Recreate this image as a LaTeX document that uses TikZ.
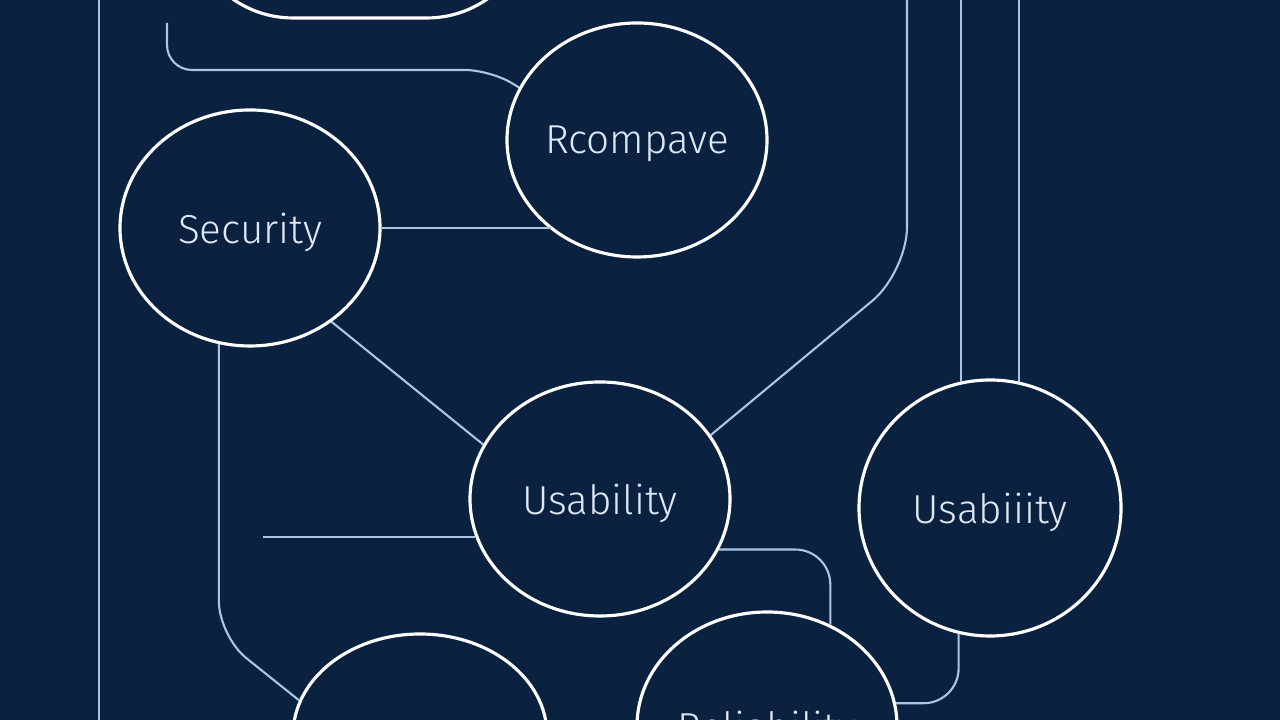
\documentclass[tikz,border=0pt]{standalone}
\usepackage{fontspec}
\setmainfont{Fira Sans Light}
\usetikzlibrary{positioning,shapes.geometric}
\definecolor{bgnavy}{HTML}{0B2140}
\definecolor{linkblue}{HTML}{A9C6E6}
\definecolor{labelwhite}{HTML}{DDE8F4}

\begin{document}
\begin{tikzpicture}[
	bubble/.style={draw=white, line width=0.9pt, ellipse, inner sep=0pt, minimum width=2.6cm, text=labelwhite, text depth=0pt, font=\fontsize{11.5}{14}\selectfont},
	link/.style={draw=linkblue, line width=0.6pt}
]
	\fill[bgnavy] (0,0) rectangle (12.8,7.2);
	\useasboundingbox (0,0) rectangle (12.8,7.2);
	\clip (0,0) rectangle (12.8,7.2);

	% bubbles
	\node[draw=white, line width=0.9pt, rounded corners=1.05cm, minimum width=3.44cm, minimum height=2.18cm] (cap) at (3.60, 8.11) {};
	\node[bubble, minimum height=2.34cm] (rcomp) at (6.37, 5.80) {Rcompave};
	\node[bubble, minimum height=2.36cm] (sec) at (2.50, 4.92) {Security};
	\node[bubble, minimum height=2.34cm] (use) at (6.00, 2.21) {Usability};
	\node[bubble, minimum width=2.62cm, minimum height=2.56cm] (ur) at (9.90, 2.12) {Usabiiity};
	\node[bubble, minimum width=2.54cm, minimum height=2.02cm] (bl) at (4.20, -0.15) {};
	\node[bubble, minimum height=2.28cm] (rel) at (7.67, -0.06) {Reliability};

	% free ends
	\coordinate (leftbot) at (0.99, 0);
	\coordinate (lefttop) at (0.99, 7.2);
	\coordinate (capfoot) at (1.67, 6.97);
	\coordinate (stub) at (2.63, 1.83);
	\coordinate (topedge) at (9.07, 7.2);

	% links
	\draw[link] (leftbot) -- (lefttop);
	\draw[link, rounded corners=0.25cm] (capfoot) -- (1.67, 6.50) -- (4.90, 6.50) -- (rcomp.156);
	\draw[link] (sec.east) -- (sec.east -| rcomp.226.6);
	\draw[link] (sec.311) -- (use.155);
	\draw[link, rounded corners=0.45cm] (use.30) -- (9.07, 4.48) -- (topedge);
	\draw[link] (ur.103.5) -- (ur.103.5 |- topedge);
	\draw[link] (ur.77.4) -- (ur.77.4 |- topedge);
	\draw[link, rounded corners=0.35cm] (ur.256.5) |- (rel.10.7);
	\draw[link, rounded corners=0.35cm] (use.337) -| (rel.58.8);
	\draw[link] (use.197) -- (use.197 -| stub);
	\draw[link, rounded corners=0.35cm] (sec.255.4) -- ++(0, -2.92) -- (bl.164.6);
\end{tikzpicture}
\end{document}
